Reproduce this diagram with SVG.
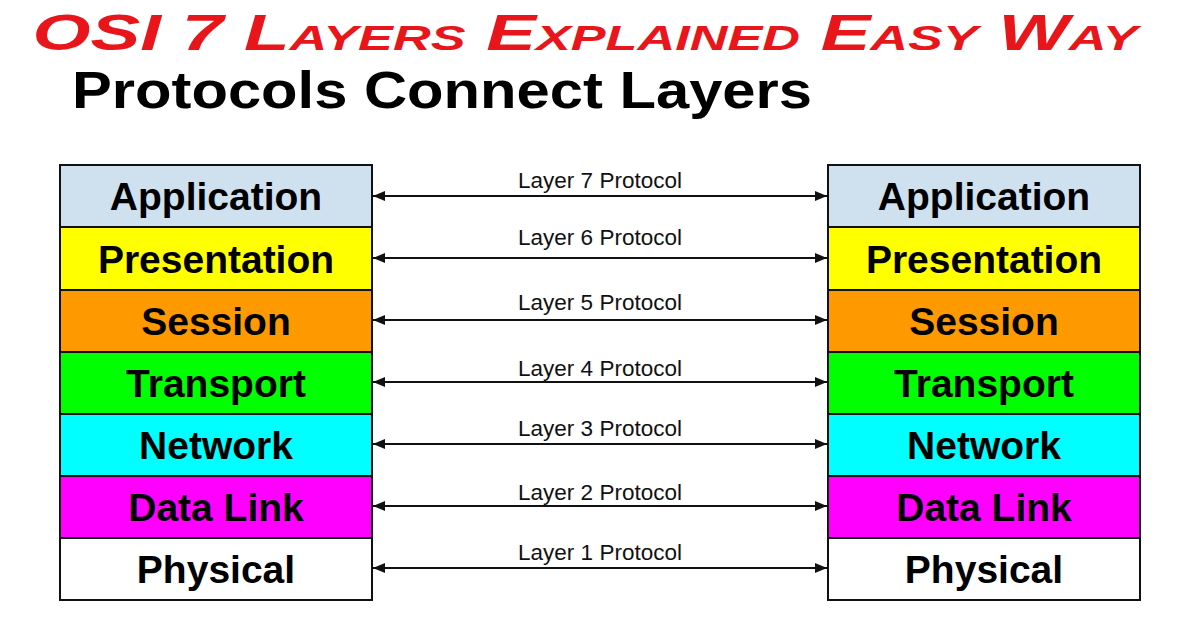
<svg xmlns="http://www.w3.org/2000/svg" width="1200" height="630" viewBox="0 0 1200 630">
<style>
.l{stroke:#111;stroke-width:2}
.t{font-family:"Liberation Sans",Arial,sans-serif;font-weight:bold;font-size:39px;text-anchor:middle;fill:#000}
.p{font-family:"Liberation Sans",Arial,sans-serif;font-size:22.5px;text-anchor:middle;fill:#111}
.a{stroke:#111;stroke-width:2;fill:none;marker-start:url(#h);marker-end:url(#h)}
</style>
<defs><marker id="h" viewBox="0 0 12 10" refX="12" refY="5" markerWidth="12" markerHeight="10" markerUnits="userSpaceOnUse" orient="auto-start-reverse"><path d="M0,0L12,5L0,10z" fill="#111"/></marker></defs>
<rect width="1200" height="630" fill="#fff"/>
<text x="585" y="50" font-family="'Liberation Sans',sans-serif" font-weight="bold" font-style="italic" font-size="50" fill="#e8161b" text-anchor="middle" style="font-variant:small-caps" textLength="1105" lengthAdjust="spacingAndGlyphs">OSI 7 Layers Explained Easy Way</text>
<text x="72" y="108" font-family="'Liberation Sans',sans-serif" font-weight="bold" font-size="52" fill="#000" textLength="740" lengthAdjust="spacingAndGlyphs">Protocols Connect Layers</text>
<g id="left">
<g id="l7"><rect class="l" x="60" y="165" width="312" height="62" fill="#cfe0ee"/><text class="t" x="216" y="210">Application</text></g>
<g id="l6"><rect class="l" x="60" y="227" width="312" height="63" fill="#ffff00"/><text class="t" x="216" y="273">Presentation</text></g>
<g id="l5"><rect class="l" x="60" y="290" width="312" height="62" fill="#ff9900"/><text class="t" x="216" y="335">Session</text></g>
<g id="l4"><rect class="l" x="60" y="352" width="312" height="62" fill="#00ff00"/><text class="t" x="216" y="397">Transport</text></g>
<g id="l3"><rect class="l" x="60" y="414" width="312" height="62" fill="#00ffff"/><text class="t" x="216" y="459">Network</text></g>
<g id="l2"><rect class="l" x="60" y="476" width="312" height="62" fill="#ff00ff"/><text class="t" x="216" y="521">Data Link</text></g>
<g id="l1"><rect class="l" x="60" y="538" width="312" height="62" fill="#ffffff"/><text class="t" x="216" y="583">Physical</text></g>
</g>
<g id="right">
<g id="r7"><rect class="l" x="828" y="165" width="312" height="62" fill="#cfe0ee"/><text class="t" x="984" y="210">Application</text></g>
<g id="r6"><rect class="l" x="828" y="227" width="312" height="63" fill="#ffff00"/><text class="t" x="984" y="273">Presentation</text></g>
<g id="r5"><rect class="l" x="828" y="290" width="312" height="62" fill="#ff9900"/><text class="t" x="984" y="335">Session</text></g>
<g id="r4"><rect class="l" x="828" y="352" width="312" height="62" fill="#00ff00"/><text class="t" x="984" y="397">Transport</text></g>
<g id="r3"><rect class="l" x="828" y="414" width="312" height="62" fill="#00ffff"/><text class="t" x="984" y="459">Network</text></g>
<g id="r2"><rect class="l" x="828" y="476" width="312" height="62" fill="#ff00ff"/><text class="t" x="984" y="521">Data Link</text></g>
<g id="r1"><rect class="l" x="828" y="538" width="312" height="62" fill="#ffffff"/><text class="t" x="984" y="583">Physical</text></g>
</g>
<g id="connectors">
<line class="a" x1="373" y1="196" x2="827" y2="196"/><text class="p" x="600" y="188">Layer 7 Protocol</text>
<line class="a" x1="373" y1="258" x2="827" y2="258"/><text class="p" x="600" y="245">Layer 6 Protocol</text>
<line class="a" x1="373" y1="320" x2="827" y2="320"/><text class="p" x="600" y="310">Layer 5 Protocol</text>
<line class="a" x1="373" y1="382" x2="827" y2="382"/><text class="p" x="600" y="376">Layer 4 Protocol</text>
<line class="a" x1="373" y1="444" x2="827" y2="444"/><text class="p" x="600" y="436">Layer 3 Protocol</text>
<line class="a" x1="373" y1="506" x2="827" y2="506"/><text class="p" x="600" y="500">Layer 2 Protocol</text>
<line class="a" x1="373" y1="568" x2="827" y2="568"/><text class="p" x="600" y="560">Layer 1 Protocol</text>
</g>
</svg>
